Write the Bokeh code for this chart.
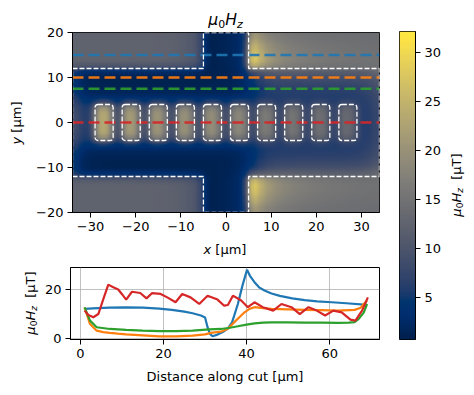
import numpy as np
from bokeh.plotting import figure
from bokeh.models import LinearColorMapper, Range1d, FixedTicker, Rect, Div
from bokeh.layouts import row, column
from bokeh.palettes import Cividis256
from bokeh.embed import file_html
from bokeh.resources import INLINE

FONT = "DejaVu Sans"

# ---------------- geometry of the sample (µm) ----------------
X_HALF = 34
Y_HALF = 20
BAND_HALF = 12
CHANNEL_HALF = 5
hole_centers = [-27, -21, -15, -9, -3, 3, 9, 15, 21, 27]
hole_w = 4
hole_h = 8
# field levels (µT)
hole_levels = [23.5, 21.5, 20.5, 20.0, 19.5, 18.5, 16.5, 15.5, 14.5, 13.5]
outside_left = 12.5
outside_right = 13.2
edge_peak = 28.0
film_left = 1.2
film_right = 5.2
film_channel = 1.0
hole_halo = 4.5
field_low, field_high = 0.77, 32.1

# ---------------- cuts ----------------
cut_y = [15, 10, 7.5, 0]
cut_colors = ["#1f77b4", "#ff7f0e", "#2ca02c", "#d62728"]

blue_d = [1, 3, 7, 11, 15, 19, 22, 25, 27, 29, 30, 30.6, 31.2, 31.8, 33, 34.5, 35.5, 36.5, 37.9, 39,
          40.1, 40.8, 41.9, 43, 44.3, 46, 48, 51, 54, 57, 60.5, 64, 69]
blue_v = [12, 12.2, 12.5, 12.6, 12.5, 12.1, 11.6, 10.9, 10.2, 9.3, 8.5, 4.5, 1.8, 0.8, 1.5, 2.8, 4.0, 6.5, 14, 21.5,
          28, 25.5, 22.9, 20.8, 19.5, 18.3, 17.3, 16.3, 15.6, 15.1, 14.7, 14.3, 13.6]
orange_d = [1, 2.3, 3.9, 5.5, 7.1, 9, 11, 15, 19, 23, 27, 30, 31.4, 33.8, 35.4, 37, 38.5, 39.5, 40.7, 41.9,
            44, 46, 50, 54, 58, 62, 66, 67.5, 68.2, 69]
orange_v = [12.6, 5.8, 3.1, 2.5, 2.2, 1.9, 1.6, 1.2, 0.8, 0.8, 1.1, 1.6, 2.2, 2.7, 3.8, 6.5, 9, 10.6, 12, 12.7,
            12.3, 12, 11.8, 11.6, 11.5, 11.3, 11.6, 12.5, 14, 15.4]
green_d = [1, 2.3, 3.9, 7.1, 11, 15, 19, 23, 27, 31, 33.8, 36, 37.9, 40, 41.9, 44, 46, 50, 54, 58, 62, 64.6,
           66, 67, 68.2, 69]
green_v = [12.6, 7.2, 4.5, 3.8, 3.4, 3.1, 2.9, 2.9, 3.1, 3.6, 3.8, 4.3, 4.9, 5.6, 6.1, 6.4, 6.5, 6.5, 6.4, 6.4,
           6.3, 6.4, 6.6, 7.9, 10.5, 14]
red_d = [1, 1.9, 3.1, 4.3, 5.5, 6.7, 7.9, 9.1, 10, 11, 12.4, 14.4, 15.9, 17.2, 19.3, 20.9, 22.9, 24.5, 26.5,
         28.6, 30.6, 33, 34.6, 35.5, 36.7, 38.7, 40.3, 41.9, 43.9, 46.4, 48.4, 50.8, 52.8, 54.9, 56.9, 58.9,
         60.9, 62.9, 65, 66.2, 67.8, 69.2]
red_v = [11.3, 9.5, 8.6, 9.9, 16, 21.9, 20.8, 19.9, 18, 15.8, 19, 18.5, 16.3, 18.4, 18.1, 16.7, 14.7, 18.1,
         16.7, 14, 17.4, 15.8, 13.3, 13.6, 17.4, 15.4, 12.7, 14.7, 12.7, 11.3, 14, 12.7, 9.9, 12.7, 11.3, 9.3,
         11.3, 10.6, 7.6, 7.2, 11.3, 16.7]
curves = [(blue_d, blue_v), (orange_d, orange_v), (green_d, green_v), (red_d, red_v)]

top_xticks = [-30, -20, -10, 0, 10, 20, 30]
top_yticks = [-20, -10, 0, 10, 20]
bot_xticks = [0, 20, 40, 60]
bot_yticks = [0, 20]
cb_ticks = [5, 10, 15, 20, 25, 30]

# ---------------- field map sketched from the picture ----------------
res = 0.25
xs = np.arange(-X_HALF + res / 2, X_HALF, res)
ys = np.arange(-Y_HALF + res / 2, Y_HALF, res)
X, Y = np.meshgrid(xs, ys)
AY = np.abs(Y)
in_band = AY <= BAND_HALF
in_chan = np.abs(X) <= CHANNEL_HALF
film = in_band | in_chan
F = np.zeros_like(X)
m = (~film) & (X < 0)
F[m] = outside_left - 4 * np.exp((X[m] + CHANNEL_HALF) / 3)
m = (~film) & (X > 0)
g = np.exp(-((AY[m] - 13.5) / 7) ** 2)
F[m] = outside_right + edge_peak * g / (1 + (X[m] - CHANNEL_HALF) / 1.8)
m = in_chan & ~in_band
F[m] = film_channel + 2.5 * ((X[m] + CHANNEL_HALF) / (2 * CHANNEL_HALF)) ** 2
m = in_band
sig = 1 / (1 + np.exp(-(X[m] - 6) / 1.5))
left_val = film_left + hole_halo * np.exp(-(Y[m] / 5.5) ** 4) + 5 * np.exp(-(X[m] + X_HALF) / 1.2)
right_val = film_right + 8 * np.exp(-(BAND_HALF - AY[m]) / 2.6) + 3 * np.exp(-(X_HALF - X[m]) / 2)
F[m] = left_val * (1 - sig) + right_val * sig
for c, lev in zip(hole_centers, hole_levels):
    hm = (np.abs(X - c) <= hole_w / 2) & (AY <= hole_h / 2)
    F[hm] = lev + 1.5 * (c - X[hm]) / (hole_w / 2)


def blur(a, s):
    r = int(3 * s) + 1
    k = np.exp(-0.5 * (np.arange(-r, r + 1) / s) ** 2)
    k /= k.sum()
    pa = np.pad(a, ((0, 0), (r, r)), mode="edge")
    a = np.array([np.convolve(rw, k, mode="valid") for rw in pa])
    pa = np.pad(a, ((r, r), (0, 0)), mode="edge")
    a = np.array([np.convolve(cl, k, mode="valid") for cl in pa.T]).T
    return a


F = blur(F, 0.9 / res)

mapper = LinearColorMapper(palette=Cividis256, low=field_low, high=field_high)


def minus(v):
    return ("\u2212" + str(abs(v))) if v < 0 else str(v)


def style_axis(ax, ticks):
    ax.ticker = FixedTicker(ticks=ticks)
    ax.major_label_overrides = {t: minus(t) for t in ticks}
    ax.major_tick_out = 5
    ax.major_tick_in = 0
    ax.minor_tick_out = 0
    ax.minor_tick_in = 0
    ax.major_tick_line_color = "black"
    ax.major_tick_line_width = 1
    ax.axis_line_color = "black"
    ax.major_label_text_font = FONT
    ax.major_label_text_font_size = "13px"
    ax.major_label_text_color = "black"
    ax.major_label_standoff = 4


# ---------------- top map (page x 33..384, y 24..240) ----------------
p1 = figure(width=351, height=216, x_range=Range1d(-X_HALF, X_HALF), y_range=Range1d(-Y_HALF, Y_HALF),
            output_backend="svg", toolbar_location=None, title=None,
            min_border_left=37, min_border_right=5, min_border_top=8, min_border_bottom=28)
p1.grid.visible = False
p1.outline_line_color = "black"
p1.border_fill_color = None
style_axis(p1.xaxis[0], top_xticks)
style_axis(p1.yaxis[0], top_yticks)
p1.image(image=[F], x=-X_HALF, y=-Y_HALF, dw=2 * X_HALF, dh=2 * Y_HALF, color_mapper=mapper)

for yc, col in zip(cut_y, cut_colors):
    p1.line([-X_HALF, X_HALF], [yc, yc], line_color=col, line_width=2.5, line_dash="11 5", line_alpha=0.9)

ox = [-X_HALF, -CHANNEL_HALF, -CHANNEL_HALF, CHANNEL_HALF, CHANNEL_HALF, X_HALF, X_HALF,
      CHANNEL_HALF, CHANNEL_HALF, -CHANNEL_HALF, -CHANNEL_HALF, -X_HALF, -X_HALF]
oy = [BAND_HALF, BAND_HALF, Y_HALF, Y_HALF, BAND_HALF, BAND_HALF, -BAND_HALF,
      -BAND_HALF, -Y_HALF, -Y_HALF, -BAND_HALF, -BAND_HALF, BAND_HALF]
p1.line(ox, oy, line_color="white", line_width=1.3, line_dash="5 2")
rkw = dict(x=hole_centers, y=[0] * len(hole_centers), width=hole_w, height=hole_h,
           fill_alpha=0, line_color="white", line_width=1.3, line_dash="5 2")
if "border_radius" in Rect.properties():
    rkw["border_radius"] = 3
p1.rect(**rkw)

# ---------------- bottom cuts (page x 41..384, y 258..367) ----------------
p2 = figure(width=343, height=109, x_range=Range1d(-2.4, 72.0), y_range=Range1d(-0.5, 28.9),
            output_backend="svg", toolbar_location=None, title=None,
            min_border_left=29, min_border_right=5, min_border_top=9, min_border_bottom=28)
p2.outline_line_color = "black"
p2.border_fill_color = None
style_axis(p2.xaxis[0], bot_xticks)
style_axis(p2.yaxis[0], bot_yticks)
p2.grid.grid_line_color = "#b0b0b0"
p2.grid.grid_line_width = 0.8
p2.xgrid.ticker = FixedTicker(ticks=bot_xticks)
p2.ygrid.ticker = FixedTicker(ticks=bot_yticks)
for (d, v), col in zip(curves, cut_colors):
    p2.line(d, v, line_color=col, line_width=2.2)

# ---------------- colour bar (page x 384..446) ----------------
pcb = figure(width=62, height=387, x_range=Range1d(0, 1), y_range=Range1d(field_low, field_high),
             y_axis_location="right", output_backend="svg", toolbar_location=None, title=None,
             min_border_left=15, min_border_right=31, min_border_top=31, min_border_bottom=48)
pcb.xaxis.visible = False
pcb.grid.visible = False
pcb.outline_line_color = "black"
pcb.border_fill_color = None
style_axis(pcb.yaxis[0], cb_ticks)
grad = np.linspace(field_low, field_high, 256).reshape(-1, 1)
pcb.image(image=[grad], x=0, y=field_low, dw=1, dh=field_high - field_low, color_mapper=mapper)

# ---------------- texts (HTML, positioned in pixels of the page) ----------------
def sub(t, italic=False):
    s = f"<i>{t}</i>" if italic else t
    return f'<span style="font-size:70%;vertical-align:-0.25em;line-height:0">{s}</span>'


MU_H = "<i>\u03bc</i>" + sub("0") + "<i>H</i>" + sub("z", True)
UNIT_T = "&nbsp;&nbsp;[\u03bcT]"
UNIT_M = "[\u03bcm]"


def hdiv(w, h, html, cx, base, fs):
    top = base - 0.846 * fs
    inner = (f'<div style="position:absolute;left:{cx - 200}px;top:{top:.1f}px;width:400px;'
             f'text-align:center;white-space:nowrap;font-family:\'{FONT}\';font-size:{fs}px;'
             f'line-height:{fs}px;color:black;">{html}</div>')
    return Div(text=f'<div style="position:relative;width:{w}px;height:{h}px;">{inner}</div>',
               width=w, height=h, margin=0, styles={"overflow": "visible"})


def vdiv(w, h, html, base_x, cy, fs):
    cx = base_x - 0.346 * fs
    inner = (f'<div style="position:absolute;left:{cx:.1f}px;top:{cy}px;white-space:nowrap;'
             f'transform:translate(-50%,-50%) rotate(-90deg);font-family:\'{FONT}\';font-size:{fs}px;'
             f'line-height:{fs}px;color:black;">{html}</div>')
    return Div(text=f'<div style="position:relative;width:{w}px;height:{h}px;">{inner}</div>',
               width=w, height=h, margin=0, styles={"overflow": "visible"})


title_div = hdiv(384, 24, MU_H, 225.5, 26, 15.6)                       # page y 0..24
yl1 = vdiv(33, 216, "<i>y</i> " + UNIT_M, 20.7, 98.5, 13)              # page x 0..33, y 24..240
xl1 = hdiv(384, 18, "<i>x</i> " + UNIT_M, 225, 14, 13)                 # page y 240..258
yl2 = vdiv(41, 109, MU_H + UNIT_T, 34, 45, 13)                        # page x 0..41, y 258..367
xl2 = hdiv(384, 20, "Distance along cut " + UNIT_M, 225, 13.5, 13)     # page y 367..387
cbl = vdiv(20, 387, MU_H + UNIT_T, 14, 185, 13)                       # page x 446..466

left = column(title_div, row(yl1, p1), xl1, row(yl2, p2), xl2)
layout = row(left, pcb, cbl)
open("out.html", "w").write(file_html(layout, INLINE))
